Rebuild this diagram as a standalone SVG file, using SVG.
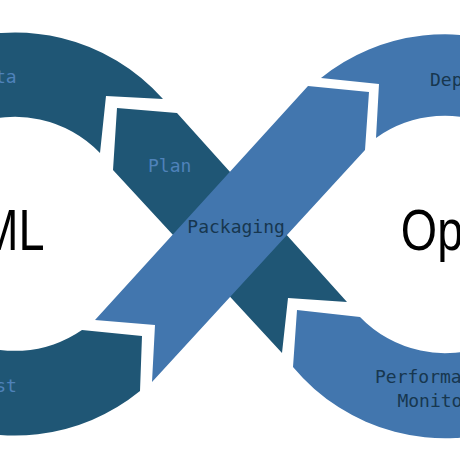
<svg xmlns="http://www.w3.org/2000/svg" width="460" height="460" viewBox="0 0 460 460">
  <style>
    .dark { fill: #1F5675; }
    .light { fill: #4276AE; }
    .lbl { font-family: "DejaVu Sans Mono", "Liberation Mono", monospace; font-size: 18px; }
    .on-dark { fill: #4F82BA; }
    .on-light { fill: #17374F; }
    .big { font-family: "Liberation Sans", Arial, sans-serif; font-size: 57px; fill: #000000; }
  </style>
  <rect width="460" height="460" fill="#FFFFFF"/>
  <g id="node-data">
    <path class="dark" d="M -183,234 A 198 198 0 0 1 163,99 L 106,96 L 100,153 A 118 118 0 0 0 -103,234 Z"/>
    <text class="lbl on-dark" x="-26.8" y="83.3">Data</text>
  </g>
  <g id="node-test">
    <path class="dark" d="M 82,330 L 142,336 L 140,391 A 198 198 0 0 1 -183,234 L -103,234 A 118 118 0 0 0 82,330 Z"/>
    <text class="lbl on-dark" x="-26.5" y="392.3">Test</text>
  </g>
  <g id="node-deploy">
    <path class="light" d="M 321,78 L 379,84 L 376,138 A 118 118 0 0 1 563,234.5 L 643,234.5 A 198 198 0 0 0 321,78 Z"/>
    <text class="lbl on-light" x="430" y="85.7">Deploy</text>
  </g>
  <g id="node-performance">
    <path class="light" d="M 297,310 L 360,317 A 118 118 0 0 0 563,234.5 L 643,234.5 A 198 198 0 0 1 293,367 Z"/>
    <text class="lbl on-light" x="375" y="383.3">Performance</text>
    <text class="lbl on-light" x="397.4" y="406.7">Monitoring</text>
  </g>
  <g id="node-plan">
    <path class="dark" d="M 117,108 L 177,113 L 347,302 L 288,298 L 282,353 L 113,170 Z"/>
    <text class="lbl on-dark" x="148" y="171.7">Plan</text>
  </g>
  <g id="node-packaging">
    <path class="light" d="M 308,86 L 369,92 L 365,150 L 152,382 L 155,325 L 95,320 Z"/>
    <text class="lbl on-light" x="187.3" y="233.3">Packaging</text>
  </g>
  <g id="node-ml">
    <text class="big" x="-20.4" y="249.5" textLength="65" lengthAdjust="spacingAndGlyphs">ML</text>
  </g>
  <g id="node-ops">
    <text class="big" x="400.8" y="249.5" textLength="85.7" lengthAdjust="spacingAndGlyphs">Ops</text>
  </g>
  <g id="connectors"/>
</svg>
